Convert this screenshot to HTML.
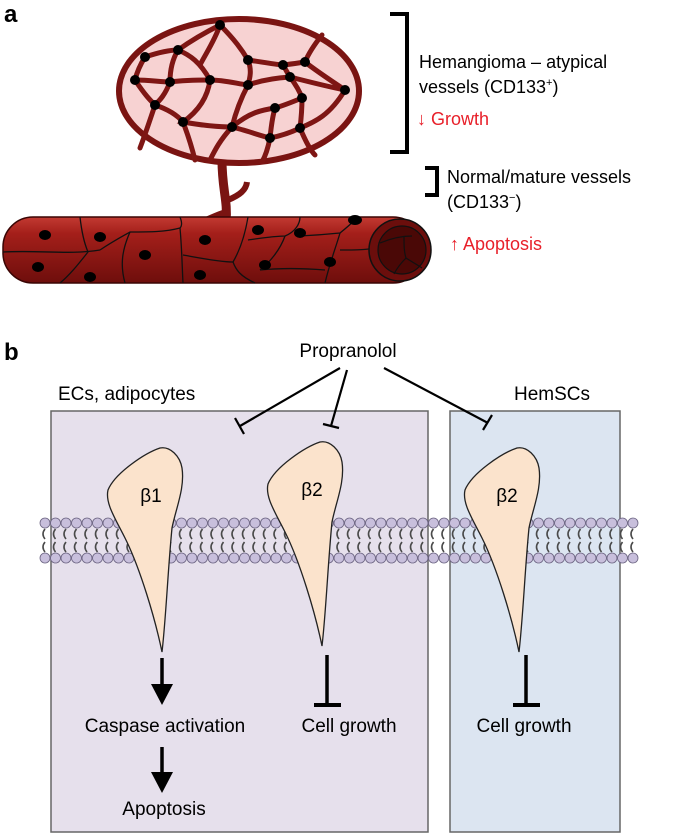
<!DOCTYPE html>
<html><head><meta charset="utf-8"><style>
html,body{margin:0;padding:0;background:#fff}
svg{display:block}
text{font-family:"Liberation Sans",Arial,sans-serif}
</style></head><body>
<svg width="685" height="834" viewBox="0 0 685 834" xmlns="http://www.w3.org/2000/svg">
<defs>
<linearGradient id="tube" x1="0" y1="0" x2="0" y2="1">
<stop offset="0" stop-color="#c23a32"/><stop offset="0.25" stop-color="#a41f1a"/><stop offset="1" stop-color="#6e0e0c"/>
</linearGradient>
<path id="prot" d="M0,0 C-15,5 -45,25 -52,42 C-55,55 -45,70 -35,90 C-20,120 -5,170 2,204 C6,170 8,120 12,80 C16,60 25,40 22,20 C20,8 10,-2 0,0 Z"/>
<g id="row">
<circle cx="45" cy="0" r="5"/><circle cx="55.5" cy="0" r="5"/><circle cx="66" cy="0" r="5"/><circle cx="76.5" cy="0" r="5"/><circle cx="87" cy="0" r="5"/><circle cx="97.5" cy="0" r="5"/><circle cx="108" cy="0" r="5"/><circle cx="118.5" cy="0" r="5"/><circle cx="129" cy="0" r="5"/><circle cx="139.5" cy="0" r="5"/><circle cx="150" cy="0" r="5"/><circle cx="160.5" cy="0" r="5"/><circle cx="171" cy="0" r="5"/><circle cx="181.5" cy="0" r="5"/><circle cx="192" cy="0" r="5"/><circle cx="202.5" cy="0" r="5"/><circle cx="213" cy="0" r="5"/><circle cx="223.5" cy="0" r="5"/><circle cx="234" cy="0" r="5"/><circle cx="244.5" cy="0" r="5"/><circle cx="255" cy="0" r="5"/><circle cx="265.5" cy="0" r="5"/><circle cx="276" cy="0" r="5"/><circle cx="286.5" cy="0" r="5"/><circle cx="297" cy="0" r="5"/><circle cx="307.5" cy="0" r="5"/><circle cx="318" cy="0" r="5"/><circle cx="328.5" cy="0" r="5"/><circle cx="339" cy="0" r="5"/><circle cx="349.5" cy="0" r="5"/><circle cx="360" cy="0" r="5"/><circle cx="370.5" cy="0" r="5"/><circle cx="381" cy="0" r="5"/><circle cx="391.5" cy="0" r="5"/><circle cx="402" cy="0" r="5"/><circle cx="412.5" cy="0" r="5"/><circle cx="423" cy="0" r="5"/><circle cx="433.5" cy="0" r="5"/><circle cx="444" cy="0" r="5"/><circle cx="454.5" cy="0" r="5"/><circle cx="465" cy="0" r="5"/><circle cx="475.5" cy="0" r="5"/><circle cx="486" cy="0" r="5"/><circle cx="496.5" cy="0" r="5"/><circle cx="507" cy="0" r="5"/><circle cx="517.5" cy="0" r="5"/><circle cx="528" cy="0" r="5"/><circle cx="538.5" cy="0" r="5"/><circle cx="549" cy="0" r="5"/><circle cx="559.5" cy="0" r="5"/><circle cx="570" cy="0" r="5"/><circle cx="580.5" cy="0" r="5"/><circle cx="591" cy="0" r="5"/><circle cx="601.5" cy="0" r="5"/><circle cx="612" cy="0" r="5"/><circle cx="622.5" cy="0" r="5"/><circle cx="633" cy="0" r="5"/>
</g>
<path id="tails" d="M45,0 q-4,5 0,10 M55.5,0 q-4,5 0,10 M66,0 q-4,5 0,10 M76.5,0 q-4,5 0,10 M87,0 q-4,5 0,10 M97.5,0 q-4,5 0,10 M108,0 q-4,5 0,10 M118.5,0 q-4,5 0,10 M129,0 q-4,5 0,10 M139.5,0 q-4,5 0,10 M150,0 q-4,5 0,10 M160.5,0 q-4,5 0,10 M171,0 q-4,5 0,10 M181.5,0 q-4,5 0,10 M192,0 q-4,5 0,10 M202.5,0 q-4,5 0,10 M213,0 q-4,5 0,10 M223.5,0 q-4,5 0,10 M234,0 q-4,5 0,10 M244.5,0 q-4,5 0,10 M255,0 q-4,5 0,10 M265.5,0 q-4,5 0,10 M276,0 q-4,5 0,10 M286.5,0 q-4,5 0,10 M297,0 q-4,5 0,10 M307.5,0 q-4,5 0,10 M318,0 q-4,5 0,10 M328.5,0 q-4,5 0,10 M339,0 q-4,5 0,10 M349.5,0 q-4,5 0,10 M360,0 q-4,5 0,10 M370.5,0 q-4,5 0,10 M381,0 q-4,5 0,10 M391.5,0 q-4,5 0,10 M402,0 q-4,5 0,10 M412.5,0 q-4,5 0,10 M423,0 q-4,5 0,10 M433.5,0 q-4,5 0,10 M444,0 q-4,5 0,10 M454.5,0 q-4,5 0,10 M465,0 q-4,5 0,10 M475.5,0 q-4,5 0,10 M486,0 q-4,5 0,10 M496.5,0 q-4,5 0,10 M507,0 q-4,5 0,10 M517.5,0 q-4,5 0,10 M528,0 q-4,5 0,10 M538.5,0 q-4,5 0,10 M549,0 q-4,5 0,10 M559.5,0 q-4,5 0,10 M570,0 q-4,5 0,10 M580.5,0 q-4,5 0,10 M591,0 q-4,5 0,10 M601.5,0 q-4,5 0,10 M612,0 q-4,5 0,10 M622.5,0 q-4,5 0,10 M633,0 q-4,5 0,10"/>
</defs>

<!-- panel a -->
<text x="4" y="22" font-size="24" font-weight="bold">a</text>

<path d="M222,160 C222,190 228,200 226,222" stroke="#7a1412" stroke-width="9" fill="none"/>
<path d="M228,200 C240,195 246,190 247,182" stroke="#7a1412" stroke-width="6" fill="none"/>
<path d="M226,212 C215,215 208,220 200,222" stroke="#7a1412" stroke-width="6" fill="none"/>

<ellipse cx="239" cy="91" rx="120" ry="72" fill="#f7d2d2" stroke="#7a1412" stroke-width="6"/>
<g stroke="#7e1614" stroke-width="5" fill="none" stroke-linecap="round">
<path d="M220,25 C200,35 185,45 178,50 C172,60 170,72 170,82 C165,95 160,100 155,105 C170,110 178,116 183,122"/>
<path d="M220,25 C235,40 242,50 248,60 C252,70 250,78 248,85 C240,100 235,115 232,127 C245,130 258,135 270,138"/>
<path d="M145,57 C140,65 137,72 135,80 C145,95 150,100 155,105 C150,120 145,135 140,148"/>
<path d="M135,80 C150,80 160,82 170,82 C185,80 200,80 210,80 C225,80 238,84 248,85"/>
<path d="M178,50 C190,55 200,62 210,80 C208,95 200,110 183,122 C200,125 215,127 232,127"/>
<path d="M248,60 C262,62 272,64 283,65 C292,64 298,63 305,62 C315,70 330,80 345,90"/>
<path d="M283,65 C286,70 288,74 290,77 C296,85 300,92 302,98 C290,103 282,106 275,108 C272,118 271,128 270,138"/>
<path d="M248,85 C262,80 275,78 290,77 C310,82 325,86 345,90"/>
<path d="M275,108 C262,110 250,112 232,127 C220,140 215,150 210,160"/>
<path d="M302,98 C302,110 301,120 300,128 C290,133 280,136 270,138 C268,148 266,155 262,162"/>
<path d="M300,128 C315,122 330,115 345,90"/>
<path d="M183,122 C188,135 192,148 195,160"/>
<path d="M220,25 C215,40 205,55 200,65"/>
<path d="M145,57 C160,52 170,50 178,50"/>
<path d="M305,62 C310,50 318,40 322,35"/>
<path d="M300,128 C305,140 310,150 315,155"/>
</g>
<g fill="#000">
<circle cx="220" cy="25" r="5"/><circle cx="145" cy="57" r="5"/><circle cx="178" cy="50" r="5"/><circle cx="248" cy="60" r="5"/><circle cx="283" cy="65" r="5"/><circle cx="305" cy="62" r="5"/><circle cx="135" cy="80" r="5"/><circle cx="170" cy="82" r="5"/><circle cx="210" cy="80" r="5"/><circle cx="248" cy="85" r="5"/><circle cx="290" cy="77" r="5"/><circle cx="345" cy="90" r="5"/><circle cx="155" cy="105" r="5"/><circle cx="183" cy="122" r="5"/><circle cx="275" cy="108" r="5"/><circle cx="302" cy="98" r="5"/><circle cx="232" cy="127" r="5"/><circle cx="270" cy="138" r="5"/><circle cx="300" cy="128" r="5"/>
</g>

<rect x="3" y="217" width="420" height="66" rx="30" fill="url(#tube)" stroke="#3a0504" stroke-width="1.5"/>
<g stroke="#111" stroke-width="1.3" fill="none">
<path d="M3,252 C40,250 70,255 100,250"/>
<path d="M80,217 C82,235 85,245 88,252 C80,262 70,275 60,283"/>
<path d="M100,250 C115,240 125,235 130,232 C150,232 165,232 180,228 C182,226 182,222 180,217"/>
<path d="M130,232 C122,250 120,265 125,283"/>
<path d="M180,228 C182,250 182,265 183,283"/>
<path d="M183,255 C200,258 220,262 233,262 C240,250 245,235 248,217"/>
<path d="M233,262 C236,270 240,276 255,283"/>
<path d="M248,240 C262,238 275,236 285,236 C295,232 300,224 300,217"/>
<path d="M285,236 C280,250 270,262 260,270"/>
<path d="M300,236 C320,235 330,234 340,233 C350,225 355,220 358,217"/>
<path d="M340,233 C335,250 330,262 325,283"/>
<path d="M260,270 C280,268 300,268 325,270"/>
<path d="M340,250 C355,250 365,250 375,248"/>
</g>
<g fill="#000">
<ellipse cx="45" cy="235" rx="6" ry="5"/><ellipse cx="38" cy="267" rx="6" ry="5"/><ellipse cx="100" cy="237" rx="6" ry="5"/><ellipse cx="90" cy="277" rx="6" ry="5"/><ellipse cx="145" cy="255" rx="6" ry="5"/><ellipse cx="205" cy="240" rx="6" ry="5"/><ellipse cx="200" cy="275" rx="6" ry="5"/><ellipse cx="258" cy="230" rx="6" ry="5"/><ellipse cx="265" cy="265" rx="6" ry="5"/><ellipse cx="300" cy="233" rx="6" ry="5"/><ellipse cx="330" cy="262" rx="6" ry="5"/><ellipse cx="355" cy="220" rx="7" ry="5"/>
</g>
<circle cx="400" cy="250" r="31" fill="#6b0e0c" stroke="#111" stroke-width="1.5"/>
<circle cx="402" cy="250" r="24" fill="#4a0806" stroke="#111" stroke-width="1.2"/>
<path d="M380,243 C392,238 402,236 412,236 M404,236 C404,245 404,252 406,258 C412,262 418,265 422,268 M406,258 C400,264 396,270 394,274" stroke="#111" stroke-width="1.2" fill="none"/>

<path d="M390,14 H407 V152 H390" fill="none" stroke="#000" stroke-width="4"/>
<path d="M425,168 H437 V195 H425" fill="none" stroke="#000" stroke-width="4"/>
<text x="419" y="68" font-size="18">Hemangioma – atypical</text>
<text x="419" y="93" font-size="18">vessels (CD133<tspan font-size="11" dy="-7">+</tspan><tspan dy="7">)</tspan></text>
<text x="417" y="125" font-size="18" fill="#e8202a">↓ Growth</text>
<text x="447" y="183" font-size="18">Normal/mature vessels</text>
<text x="447" y="208" font-size="18">(CD133<tspan font-size="11" dy="-7">−</tspan><tspan dy="7">)</tspan></text>
<text x="450" y="250" font-size="18" fill="#e8202a">↑ Apoptosis</text>

<!-- panel b -->
<text x="4" y="360" font-size="24" font-weight="bold">b</text>
<text x="348" y="357" font-size="19" text-anchor="middle">Propranolol</text>
<text x="58" y="400" font-size="19">ECs, adipocytes</text>
<text x="514" y="400" font-size="19">HemSCs</text>

<rect x="51" y="411" width="377" height="421" fill="#e6e0ec" stroke="#666" stroke-width="1.5"/>
<rect x="450" y="411" width="170" height="421" fill="#dce5f1" stroke="#666" stroke-width="1.5"/>

<g stroke="#000" stroke-width="2.2">
<line x1="340" y1="368" x2="240" y2="426"/><line x1="235" y1="418" x2="244" y2="434"/>
<line x1="347" y1="370" x2="331" y2="426"/><line x1="323" y1="424" x2="339" y2="428"/>
<line x1="384" y1="368" x2="488" y2="423"/><line x1="483" y1="430" x2="492" y2="415"/>
</g>

<!-- membrane -->
<g stroke="#4a4a4a" stroke-width="1.6" fill="none">
<use href="#tails" transform="translate(0,529)"/>
<use href="#tails" transform="translate(0,552) scale(1,-1)"/>
</g>
<g fill="#c8bfdc" stroke="#6a6280" stroke-width="0.8">
<use href="#row" transform="translate(0,523)"/>
<use href="#row" transform="translate(0,558)"/>
</g>

<!-- proteins -->
<g fill="#fbe3cc" stroke="#222" stroke-width="1.3">
<use href="#prot" transform="translate(160,448)"/>
<use href="#prot" transform="translate(320,442)"/>
<use href="#prot" transform="translate(517,448)"/>
</g>
<text x="151" y="502" font-size="19" text-anchor="middle">β1</text>
<text x="312" y="496" font-size="19" text-anchor="middle">β2</text>
<text x="507" y="502" font-size="19" text-anchor="middle">β2</text>

<!-- downstream -->
<line x1="162" y1="658" x2="162" y2="686" stroke="#000" stroke-width="3.5"/>
<polygon points="151,684 173,684 162,705" fill="#000"/>
<text x="165" y="732" font-size="19" text-anchor="middle">Caspase activation</text>
<line x1="162" y1="747" x2="162" y2="774" stroke="#000" stroke-width="3.5"/>
<polygon points="151,772 173,772 162,793" fill="#000"/>
<text x="164" y="815" font-size="19" text-anchor="middle">Apoptosis</text>

<line x1="327" y1="655" x2="327" y2="704" stroke="#000" stroke-width="3.5"/>
<line x1="314" y1="705" x2="341" y2="705" stroke="#000" stroke-width="4"/>
<text x="349" y="732" font-size="19" text-anchor="middle">Cell growth</text>

<line x1="526" y1="655" x2="526" y2="704" stroke="#000" stroke-width="3.5"/>
<line x1="513" y1="705" x2="540" y2="705" stroke="#000" stroke-width="4"/>
<text x="524" y="732" font-size="19" text-anchor="middle">Cell growth</text>
</svg>
</body></html>
